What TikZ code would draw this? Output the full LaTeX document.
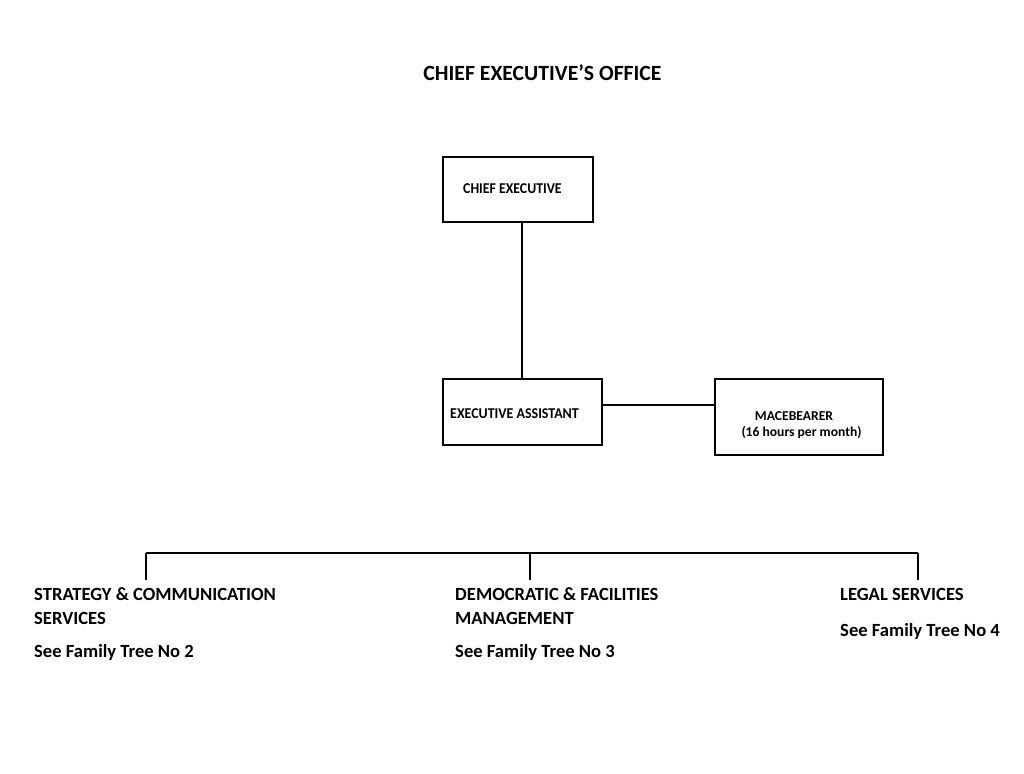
\documentclass[tikz,border=0pt]{standalone}
\usepackage{fontspec}
\setmainfont{Carlito}
\begin{document}
\begin{tikzpicture}[x=1pt,y=-1pt,
  box/.style={draw,line width=1.8pt,inner sep=0pt},
  conn/.style={line width=1.6pt},
  lbl/.style={anchor=base west,inner sep=0pt,font=\bfseries\fontsize{18.6}{22}\selectfont},
  small/.style={anchor=base west,inner sep=0pt,font=\bfseries\fontsize{15}{17}\selectfont},
  mid/.style={anchor=base,inner sep=0pt,font=\bfseries\fontsize{13.6}{16}\selectfont}]
\useasboundingbox[fill=white] (0,0) rectangle (1024,773);
\node[anchor=base,inner sep=0pt,font=\bfseries\fontsize{21.7}{25}\selectfont] (title) at (542.5,81) {CHIEF EXECUTIVE’S OFFICE};
% boxes
\node[box,minimum width=150pt,minimum height=65pt] (ce) at (518,189.5) {};
\node[box,minimum width=159pt,minimum height=66pt] (ea) at (522.5,412) {};
\node[box,minimum width=168pt,minimum height=76pt] (mb) at (799,417) {};
\node[small] (cet) at (463,193) {\scalebox{0.92}[1]{CHIEF EXECUTIVE}};
\node[small] (eat) at (450,418) {\scalebox{0.93}[1]{EXECUTIVE ASSISTANT}};
\node[mid] (mbt1) at (794,420) {MACEBEARER};
\node[mid] (mbt2) at (801.5,436) {(16 hours per month)};
% connectors
\coordinate (ceb) at (522,222);
\coordinate (eat0) at (522,379);
\draw[conn] (ceb) -- (eat0);
\draw[conn] (ea.east |- 0,405) -- (mb.west |- 0,405);
\coordinate (b1) at (146,553);
\coordinate (b2) at (530,553);
\coordinate (b3) at (918,553);
\draw[conn] (b1) -- (b3);
\coordinate (d1) at (146,580);
\coordinate (d2) at (530,580);
\coordinate (d3) at (918,580);
\draw[conn] (b1) -- (d1);
\draw[conn] (b2) -- (d2);
\draw[conn] (b3) -- (d3);
% labels
\node[lbl] (s1) at (34,600) {STRATEGY \& COMMUNICATION};
\node[lbl] (s2) at (34,624) {SERVICES};
\node[lbl] (s3) at (34,657) {See Family Tree No 2};
\node[lbl] (m1) at (455,600) {DEMOCRATIC \& FACILITIES};
\node[lbl] (m2) at (455,624) {MANAGEMENT};
\node[lbl] (m3) at (455,657) {See Family Tree No 3};
\node[lbl] (l1) at (840,600) {LEGAL SERVICES};
\node[lbl] (l3) at (840,636) {See Family Tree No 4};
\end{tikzpicture}
\end{document}
